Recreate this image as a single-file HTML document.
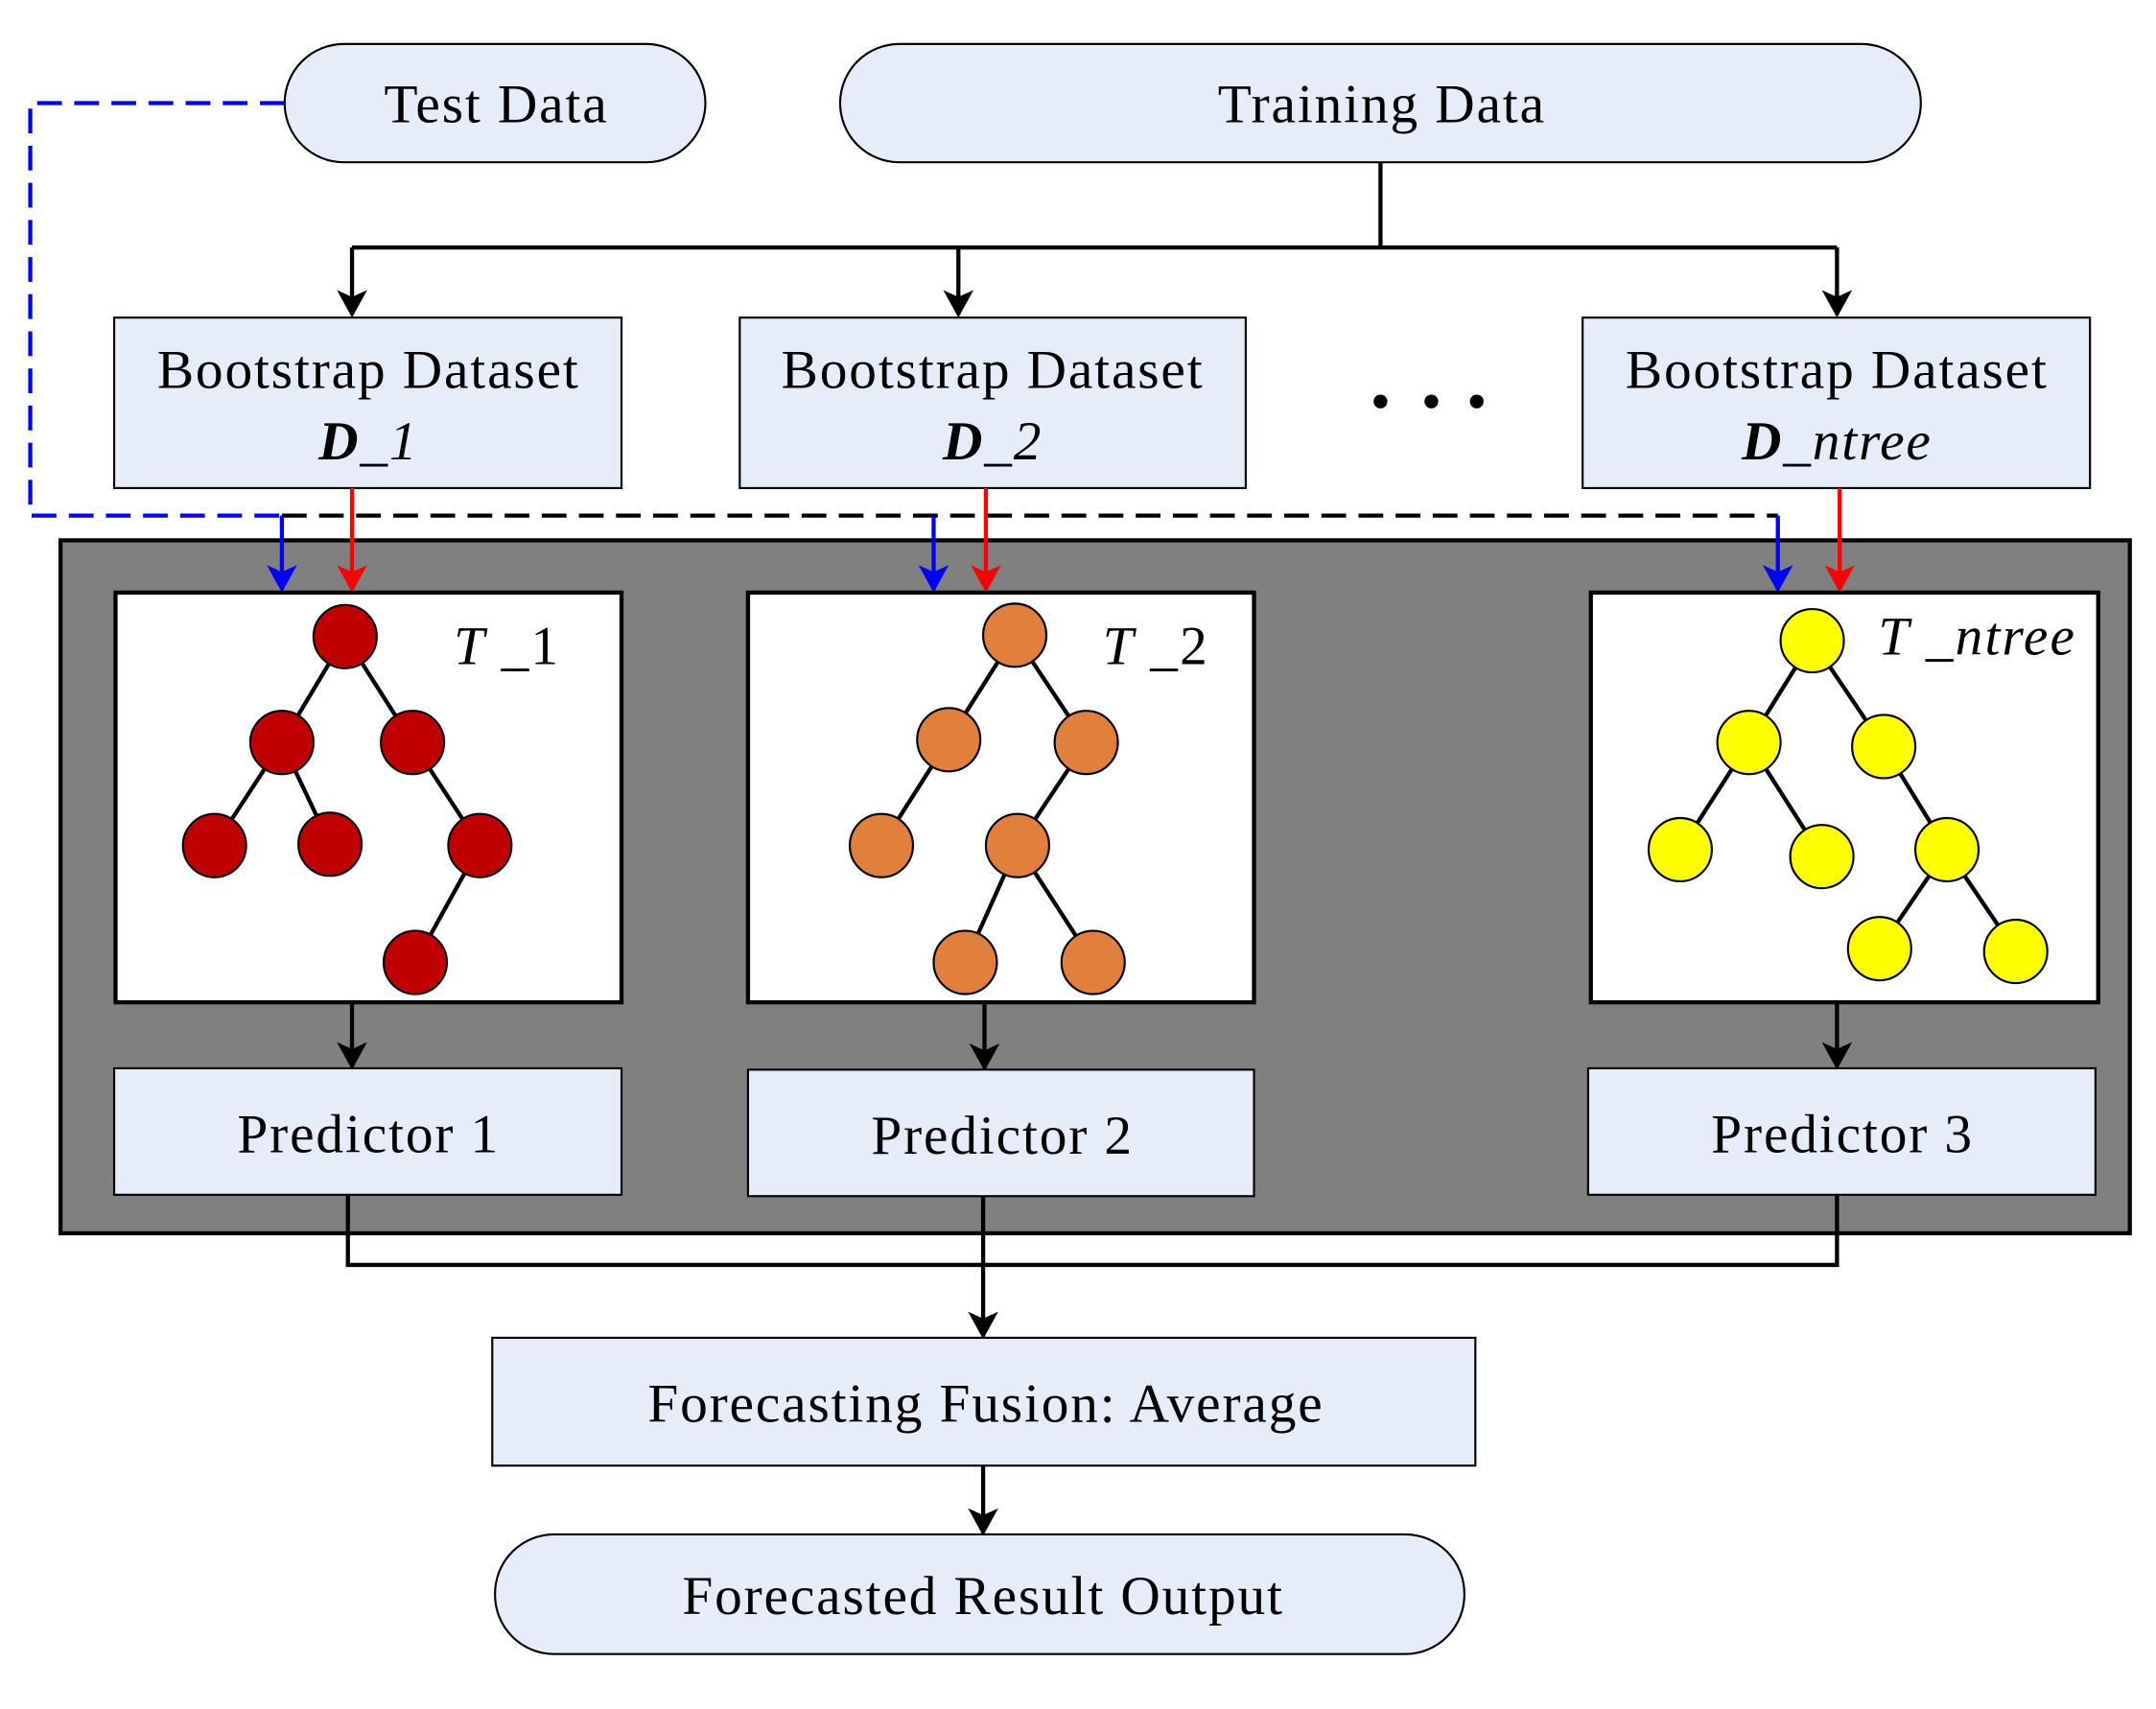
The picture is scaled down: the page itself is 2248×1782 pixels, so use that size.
<!DOCTYPE html>
<html><head><meta charset="utf-8"><style>html,body{margin:0;padding:0;background:#fff}svg{display:block}</style></head>
<body>
<svg width="2248" height="1782" viewBox="0 0 1568 1243" xmlns="http://www.w3.org/2000/svg" font-family="Liberation Serif, serif">
<defs>
<marker id="ak" markerWidth="20" markerHeight="22" refX="18" refY="11" orient="auto" markerUnits="userSpaceOnUse" viewBox="0 0 20 22"><path d="M0,0 L20,11 L0,22 L5,11 Z" fill="#000"/></marker>
<marker id="ab" markerWidth="20" markerHeight="22" refX="18" refY="11" orient="auto" markerUnits="userSpaceOnUse" viewBox="0 0 20 22"><path d="M0,0 L20,11 L0,22 L5,11 Z" fill="#0000ff"/></marker>
<marker id="ar" markerWidth="20" markerHeight="22" refX="18" refY="11" orient="auto" markerUnits="userSpaceOnUse" viewBox="0 0 20 22"><path d="M0,0 L20,11 L0,22 L5,11 Z" fill="#ff0000"/></marker>
</defs>
<g stroke="#000" stroke-width="1.5" fill="#e6edf8">
<rect x="207" y="32" width="306" height="86" rx="43"/>
<rect x="611" y="32" width="786" height="86" rx="43"/>
<rect x="83" y="231" width="369" height="124"/>
<rect x="538" y="231" width="368" height="124"/>
<rect x="1151" y="231" width="369" height="124"/>
</g>
<g font-size="40" letter-spacing="1.3" text-anchor="middle" fill="#000">
<text x="361" y="89">Test Data</text>
<text x="1005" y="89">Training Data</text>
<text x="268" y="282">Bootstrap Dataset</text>
<text x="268" y="334"><tspan font-weight="bold" font-style="italic">D</tspan><tspan font-style="italic">_1</tspan></text>
<text x="722" y="282">Bootstrap Dataset</text>
<text x="722" y="334"><tspan font-weight="bold" font-style="italic">D</tspan><tspan font-style="italic">_2</tspan></text>
<text x="1336" y="282">Bootstrap Dataset</text>
<text x="1336" y="334"><tspan font-weight="bold" font-style="italic">D</tspan><tspan font-style="italic">_ntree</tspan></text>
</g>
<circle cx="1004" cy="292" r="5"/><circle cx="1041" cy="292" r="5"/><circle cx="1074" cy="292" r="5"/>
<g stroke="#000" stroke-width="3" fill="none">
<path d="M1004 118 V180 M256 180 H1336"/>
<path d="M256 180 V229" marker-end="url(#ak)"/>
<path d="M697 180 V229" marker-end="url(#ak)"/>
<path d="M1336 180 V229" marker-end="url(#ak)"/>
</g>
<rect x="44" y="393" width="1505" height="504" fill="#808080" stroke="#000" stroke-width="3"/>
<g fill="none" stroke-width="3" stroke-dasharray="18,9">
<path d="M207 75 H22 V375 H205" stroke="#0000ff"/>
<path d="M205 375 H1293" stroke="#000"/>
</g>
<g stroke="#0000ff" stroke-width="3">
<path d="M205 375 V429" marker-end="url(#ab)"/>
<path d="M679 375 V429" marker-end="url(#ab)"/>
<path d="M1293 375 V429" marker-end="url(#ab)"/>
</g>
<g stroke="#ff0000" stroke-width="3">
<path d="M256 355 V429" marker-end="url(#ar)"/>
<path d="M717 355 V429" marker-end="url(#ar)"/>
<path d="M1338 355 V429" marker-end="url(#ar)"/>
</g>
<g fill="#fff" stroke="#000" stroke-width="3">
<rect x="84" y="431" width="368" height="298"/>
<rect x="544" y="431" width="368" height="298"/>
<rect x="1157" y="431" width="369" height="298"/>
</g>
<g stroke="#000" stroke-width="3">
<path d="M251 463 L205 540 M251 463 L300 540 M205 540 L156 615 M205 540 L240 614 M300 540 L349 615 M349 615 L302 700"/>
<path d="M738 462 L690 538 M738 462 L790 540 M690 538 L641 615 M790 540 L740 615 M740 615 L702 700 M740 615 L795 700"/>
<path d="M1318 466 L1272 540 M1318 466 L1370 543 M1272 540 L1222 618 M1272 540 L1325 623 M1370 543 L1416 618 M1416 618 L1367 690 M1416 618 L1466 692"/>
</g>
<g stroke="#000" stroke-width="1.5" fill="#c00000">
<circle cx="251" cy="463" r="23"/><circle cx="205" cy="540" r="23"/><circle cx="300" cy="540" r="23"/><circle cx="156" cy="615" r="23"/><circle cx="240" cy="614" r="23"/><circle cx="349" cy="615" r="23"/><circle cx="302" cy="700" r="23"/>
</g>
<g stroke="#000" stroke-width="1.5" fill="#e0803c">
<circle cx="738" cy="462" r="23"/><circle cx="690" cy="538" r="23"/><circle cx="790" cy="540" r="23"/><circle cx="641" cy="615" r="23"/><circle cx="740" cy="615" r="23"/><circle cx="702" cy="700" r="23"/><circle cx="795" cy="700" r="23"/>
</g>
<g stroke="#000" stroke-width="1.5" fill="#ffff00">
<circle cx="1318" cy="466" r="23"/><circle cx="1272" cy="540" r="23"/><circle cx="1370" cy="543" r="23"/><circle cx="1222" cy="618" r="23"/><circle cx="1325" cy="623" r="23"/><circle cx="1416" cy="618" r="23"/><circle cx="1367" cy="690" r="23"/><circle cx="1466" cy="692" r="23"/>
</g>
<g font-size="40" fill="#000" letter-spacing="1.5">
<text x="330" y="483"><tspan font-style="italic">T _</tspan>1</text>
<text x="802" y="483"><tspan font-style="italic">T _</tspan>2</text>
<text x="1366" y="476" font-style="italic">T _ntree</text>
</g>
<g stroke="#000" stroke-width="3">
<path d="M256 729 V776" marker-end="url(#ak)"/>
<path d="M716 729 V777" marker-end="url(#ak)"/>
<path d="M1336 729 V776" marker-end="url(#ak)"/>
</g>
<g stroke="#000" stroke-width="1.5" fill="#e6edf8">
<rect x="83" y="777" width="369" height="92"/>
<rect x="544" y="778" width="368" height="92"/>
<rect x="1155" y="777" width="369" height="92"/>
<rect x="358" y="973" width="715" height="93"/>
<rect x="360" y="1116" width="705" height="87" rx="43"/>
</g>
<g font-size="40" letter-spacing="1.3" text-anchor="middle" fill="#000">
<text x="268" y="838">Predictor 1</text>
<text x="729" y="839">Predictor 2</text>
<text x="1340" y="838">Predictor 3</text>
<text x="717" y="1034">Forecasting Fusion: Average</text>
<text x="715" y="1174">Forecasted Result Output</text>
</g>
<g stroke="#000" stroke-width="3" fill="none">
<path d="M253 869 V920 H1336 V869"/>
<path d="M715 870 V972" marker-end="url(#ak)"/>
<path d="M715 1066 V1115" marker-end="url(#ak)"/>
</g>
</svg>
</body></html>
